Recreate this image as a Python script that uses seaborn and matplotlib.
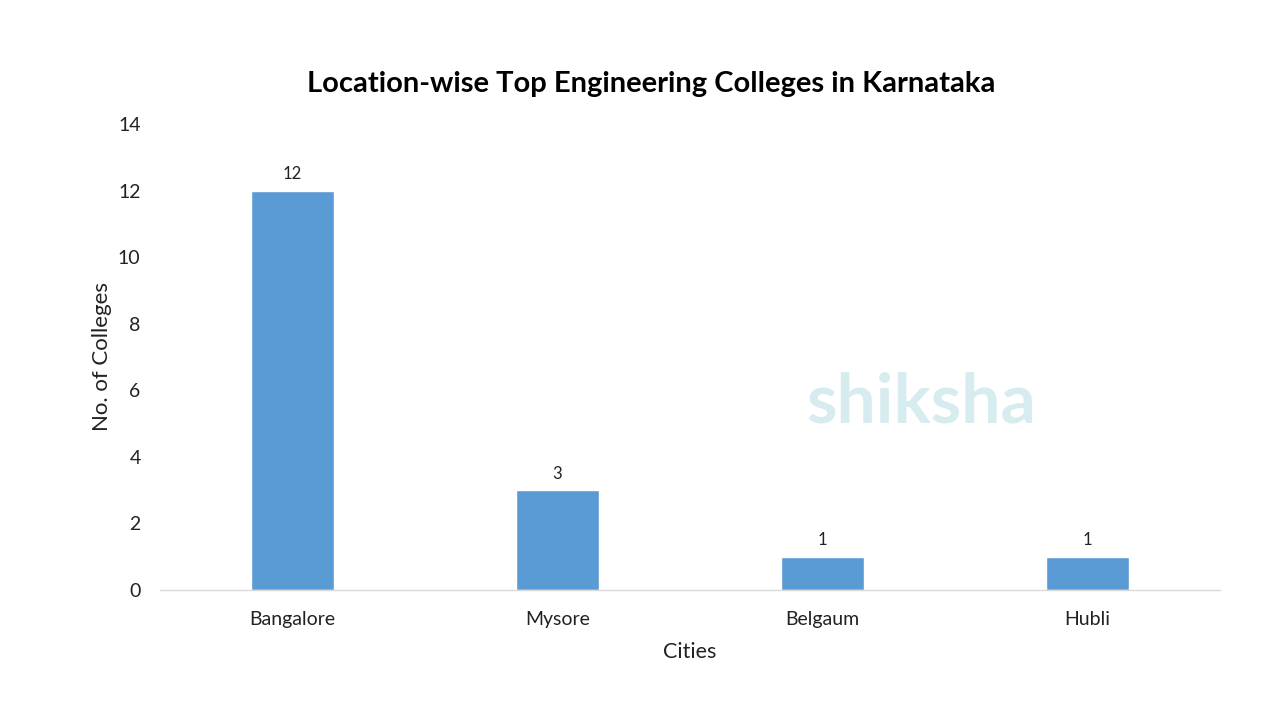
import matplotlib
matplotlib.use("Agg")
import matplotlib.pyplot as plt
import seaborn as sns
import pandas as pd

cities = ["Bangalore", "Mysore", "Belgaum", "Hubli"]
colleges = [12, 3, 1, 1]
y_ticks = [0, 2, 4, 6, 8, 10, 12, 14]

sns.set_theme(style="white")
plt.rcParams["font.family"] = ["Lato", "DejaVu Sans"]

df = pd.DataFrame({"City": cities, "Colleges": colleges})

fig = plt.figure(figsize=(12.8, 7.2), dpi=100)
ax = fig.add_axes([0.125, 0.1806, 0.828, 0.6472])

sns.barplot(data=df, x="City", y="Colleges", color="#5B9BD5", width=0.313,
            saturation=1, ax=ax, zorder=2)

ax.set_xlim(-0.5, 3.5)
ax.set_ylim(0, 14)
ax.set_yticks(y_ticks)
ax.set_yticklabels([str(t) for t in y_ticks], fontsize=14, color="#222222")
ax.tick_params(axis="x", labelsize=14, colors="#222222", length=0, pad=15)
ax.tick_params(axis="y", length=0, pad=14)

for s in ["top", "right", "left"]:
    ax.spines[s].set_visible(False)
ax.spines["bottom"].set_color("#d9d9d9")
ax.spines["bottom"].set_linewidth(1)

for p, v in zip(ax.patches, colleges):
    ax.annotate(str(v), (p.get_x() + p.get_width() / 2, p.get_height()),
                xytext=(0, 6), textcoords="offset points", ha="center",
                va="bottom", fontsize=12, color="#222222")

ax.set_xlabel("Cities", fontsize=15.5, color="#222222", labelpad=10)
ax.set_ylabel("No. of Colleges", fontsize=16, color="#222222", labelpad=4)

fig.text(0.509, 0.884, "Location-wise Top Engineering Colleges in Karnataka",
         ha="center", va="center", fontsize=21, fontweight="bold", color="#000000")

# watermark
fig.text(0.630, 0.44, "shiksha", ha="left", va="center", fontsize=50,
         fontweight="bold", color="#d6ecef", zorder=0)

fig.savefig("out.png", dpi=100)
